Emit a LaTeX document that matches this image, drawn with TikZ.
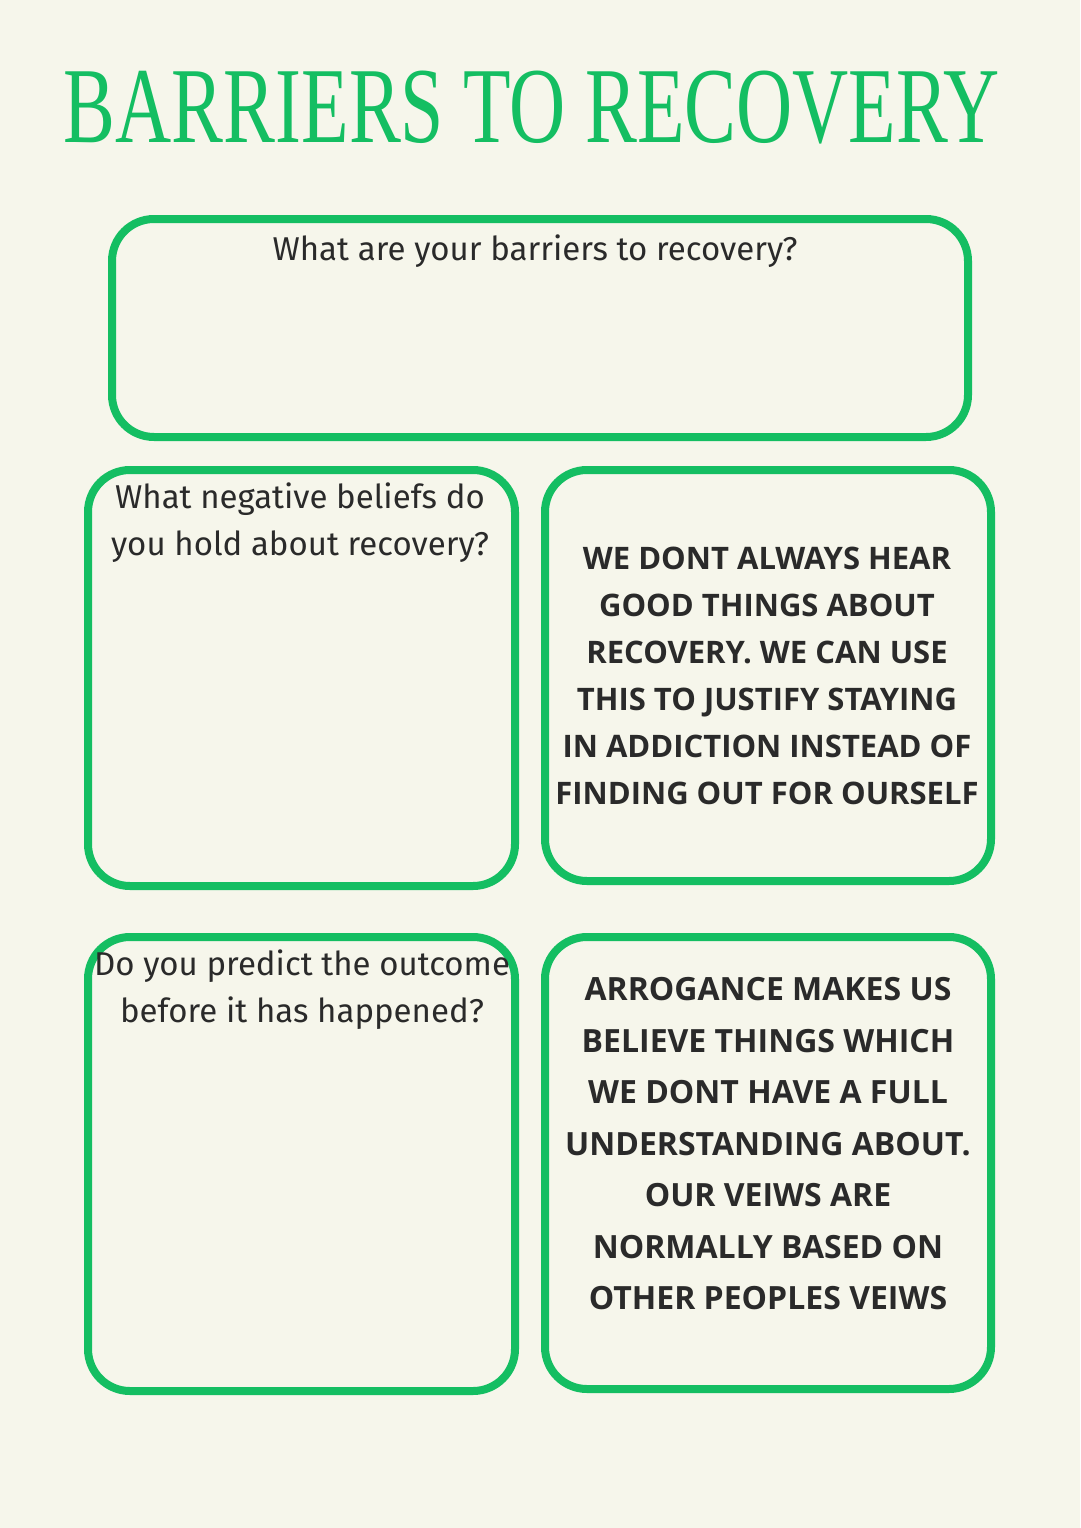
\documentclass[tikz,border=0pt]{standalone}
\usepackage{fontspec}
\setmainfont{Fira Sans}
\newfontfamily\titlefont{Liberation Serif}
\newfontfamily\boldfont{Open Sans}
\definecolor{bg}{HTML}{F6F6EB}
\definecolor{gr}{HTML}{14BE62}
\definecolor{tx}{HTML}{2A2A2A}
\begin{document}
\begin{tikzpicture}[x=1pt,y=-1pt,
  panel/.style={draw=gr,line width=8pt,rounded corners=42pt},
  qtext/.style={text=tx,font=\fontsize{33}{47}\selectfont,align=center,anchor=north,inner sep=0},
  btext/.style={text=tx,font=\boldfont\bfseries\fontsize{31}{47}\selectfont,align=center,inner sep=0}]
\fill[bg] (0,0) rectangle (1080,1528);
\useasboundingbox (0,0) rectangle (1080,1528);
\node[text=gr,font=\titlefont\fontsize{108}{110}\selectfont,xscale=0.72,inner sep=0] (title) at (532,108) {BARRIERS TO RECOVERY};
\draw[panel] (112,219) rectangle (968,437);
\draw[panel] (88,470) rectangle (515,886);
\draw[panel] (545,470) rectangle (991,881);
\draw[panel] (88,937) rectangle (515,1391);
\draw[panel] (545,937) rectangle (991,1389);
\node[qtext] (q1) at (535,235) {What are your barriers to recovery?};
\node[qtext] (q2) at (300,483) {What negative beliefs do\\you hold about recovery?};
\node[qtext] (q3) at (302,950) {Do you predict the outcome\\before it has happened?};
\node[btext] (b1) at (767,676) {WE DONT ALWAYS HEAR\\GOOD THINGS ABOUT\\RECOVERY. WE CAN USE\\THIS TO JUSTIFY STAYING\\IN ADDICTION INSTEAD OF\\FINDING OUT FOR OURSELF};
\node[btext,font=\boldfont\bfseries\fontsize{32}{51.5}\selectfont] (b2) at (768,1144) {ARROGANCE MAKES US\\BELIEVE THINGS WHICH\\WE DONT HAVE A FULL\\UNDERSTANDING ABOUT.\\OUR VEIWS ARE\\NORMALLY BASED ON\\OTHER PEOPLES VEIWS};
\end{tikzpicture}
\end{document}
